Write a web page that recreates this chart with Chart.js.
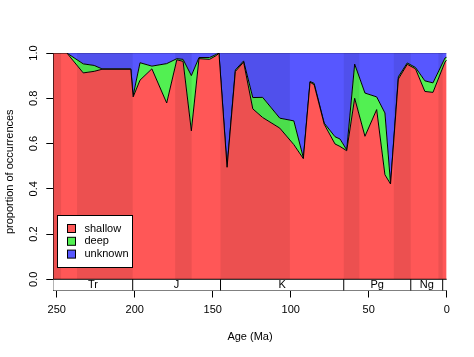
<!DOCTYPE html>
<html><head><meta charset="utf-8">
<script src="https://cdn.jsdelivr.net/npm/chart.js@4"></script>
<style>html,body{margin:0;padding:0;background:#fff}#wrap{width:474px;height:357px;position:relative}</style>
</head><body><div id="wrap"><canvas id="c"></canvas></div>
<script>
// Age (Ma) of each sample point
const ages    = [252.2,243.5,233,226,221,202.5,201,196.6,189,179.5,173,169,163.7,158.8,152,147.4,146,140.8,135.5,130.2,124.3,118,107,98,91.9,87.6,85,78.5,71.6,68.4,64.1,59,52.4,44.9,39.6,36,31,25.3,20,14,8.8,1.1,0];
// proportions of occurrences
const shallow = [1.000,1.000,0.912,0.919,0.928,0.928,0.806,0.880,0.930,0.779,0.970,0.963,0.656,0.975,0.972,0.990,1.000,0.495,0.918,0.960,0.753,0.715,0.668,0.595,0.533,0.871,0.860,0.685,0.598,0.587,0.568,0.800,0.632,0.750,0.462,0.421,0.885,0.950,0.930,0.830,0.826,0.960,0.969];
const deep    = [0.000,0.000,0.040,0.026,0.002,0.002,0.006,0.077,0.012,0.174,0.005,0.009,0.244,0.005,0.008,0.005,0.000,0.002,0.007,0.005,0.050,0.089,0.044,0.105,0.004,0.003,0.006,0.005,0.032,0.033,0.004,0.151,0.191,0.056,0.273,0.002,0.010,0.006,0.006,0.047,0.042,0.018,0.012];
const unknown = [0.000,0.000,0.048,0.055,0.070,0.070,0.188,0.043,0.058,0.047,0.025,0.028,0.100,0.020,0.020,0.005,0.000,0.503,0.075,0.035,0.197,0.196,0.288,0.300,0.463,0.126,0.134,0.310,0.370,0.380,0.428,0.049,0.177,0.194,0.265,0.577,0.105,0.044,0.064,0.123,0.132,0.022,0.019];
const seriesNames = ['shallow','deep','unknown'];
const seriesColors = ['#FF5757','#52F052','#5757FF'];
const xTicks = [250,200,150,100,50,0];
const yTicks = [0,0.2,0.4,0.6,0.8,1.0];
const periodNames  = ['Tr','J','K','Pg','Ng',''];
const periodBounds = [252.2,201.3,145,66,23.03,2.58,0];
const epochBounds  = [252.2,247.2,237,201.3,174.1,163.5,145,100.5,66,56,33.9,23.03,5.333,2.58,0];

const FONT = '"Liberation Sans", Arial, Helvetica, sans-serif';
Chart.defaults.font.family = FONT;
Chart.defaults.font.size = 11;
Chart.defaults.color = '#000';

const pts = arr => arr.map((v,i)=>({x:ages[i], y:v}));

const overlay = {
  id:'overlay',
  afterDatasetsDraw(chart){
    const {ctx, chartArea:a, scales:{x,y}} = chart;
    const y1 = y.getPixelForValue(1), y0 = y.getPixelForValue(0), yb = a.bottom;
    ctx.save();
    ctx.fillStyle = 'rgba(0,0,0,0.075)';
    for (let i=0;i<epochBounds.length-1;i+=2){
      const xa = x.getPixelForValue(epochBounds[i]), xb = x.getPixelForValue(epochBounds[i+1]);
      ctx.fillRect(xa, y1, xb-xa, y0-y1);
    }
    // period bar
    ctx.fillStyle = '#fff';
    ctx.fillRect(a.left, y0, a.right-a.left, yb-y0);
    ctx.strokeStyle = '#000'; ctx.lineWidth = 1;
    ctx.beginPath();
    ctx.moveTo(a.left, y0); ctx.lineTo(a.right, y0);
    for (let i=1;i<periodBounds.length-1;i++){
      const px = x.getPixelForValue(periodBounds[i]);
      ctx.moveTo(px, y0); ctx.lineTo(px, yb);
    }
    ctx.stroke();
    ctx.fillStyle = '#000';
    ctx.font = '11px ' + FONT;
    ctx.textAlign = 'center'; ctx.textBaseline = 'middle';
    for (let i=0;i<periodNames.length;i++){
      if (!periodNames[i]) continue;
      const c = (x.getPixelForValue(periodBounds[i]) + x.getPixelForValue(periodBounds[i+1]))/2;
      ctx.fillText(periodNames[i], c, (y0+yb)/2+0.5);
    }
    ctx.restore();
  },
  afterDraw(chart){
    const {ctx} = chart;
    ctx.save();
    const bx=57.5, by=215.5, bw=75, bh=52;
    ctx.fillStyle='#fff'; ctx.fillRect(bx,by,bw,bh);
    ctx.strokeStyle='#000'; ctx.lineWidth=1; ctx.strokeRect(bx,by,bw,bh);
    ctx.font='11px '+FONT; ctx.textAlign='left'; ctx.textBaseline='middle';
    for (let i=0;i<seriesNames.length;i++){
      const cy = 228.5 + i*12.8;
      ctx.fillStyle = seriesColors[i];
      ctx.fillRect(67.5, cy-4, 8, 8);
      ctx.strokeRect(67.5, cy-4, 8, 8);
      ctx.fillStyle='#000';
      ctx.fillText(seriesNames[i], 84.5, cy);
    }
    ctx.restore();
  }
};

new Chart(document.getElementById('c'), {
  type:'line',
  data:{ datasets:[
    {label:seriesNames[0], data:pts(shallow), backgroundColor:seriesColors[0], borderColor:'#000', borderWidth:1, fill:'origin'},
    {label:seriesNames[1], data:pts(deep), backgroundColor:seriesColors[1], borderColor:'#000', borderWidth:1, fill:'-1'},
    {label:seriesNames[2], data:pts(unknown), backgroundColor:seriesColors[2], borderColor:'rgba(0,0,0,0.35)', borderWidth:1, fill:'-1'}
  ]},
  options:{
    responsive:true, maintainAspectRatio:false, animation:false, devicePixelRatio:1,
    layout:{padding:{top:53, right:27.3, left:0, bottom:0}},
    elements:{point:{radius:0, hoverRadius:0}, line:{tension:0}},
    plugins:{legend:{display:false}, tooltip:{enabled:false}},
    scales:{
      x:{type:'linear', min:0, max:252.2, reverse:true,
        afterBuildTicks:s=>{s.ticks = xTicks.map(v=>({value:v}));},
        afterFit:s=>{s.height = 66.5;},
        ticks:{padding:6, color:'#000', maxRotation:0, font:{size:11}},
        grid:{drawOnChartArea:false, drawTicks:true, tickLength:7, color:'#000'},
        border:{display:true, color:'#000', width:1},
        title:{display:true, text:'Age (Ma)', color:'#000', font:{size:11}, padding:{top:0,bottom:13.5}}
      },
      y:{type:'linear', stacked:true, min:-0.0496, max:1,
        afterBuildTicks:s=>{s.ticks = yTicks.map(v=>({value:v}));},
        afterFit:s=>{s.width = 53.3;},
        ticks:{padding:5, color:'#000', minRotation:90, maxRotation:90, crossAlign:'center', callback:v=>v.toFixed(1), font:{size:11}},
        grid:{drawOnChartArea:false, drawTicks:true, tickLength:7, color:'#000'},
        border:{display:true, color:'#000', width:1},
        title:{display:true, text:'proportion of occurrences', color:'#000', font:{size:11}, padding:{top:3.4,bottom:0}}
      }
    }
  },
  plugins:[overlay]
});
</script></body></html>
